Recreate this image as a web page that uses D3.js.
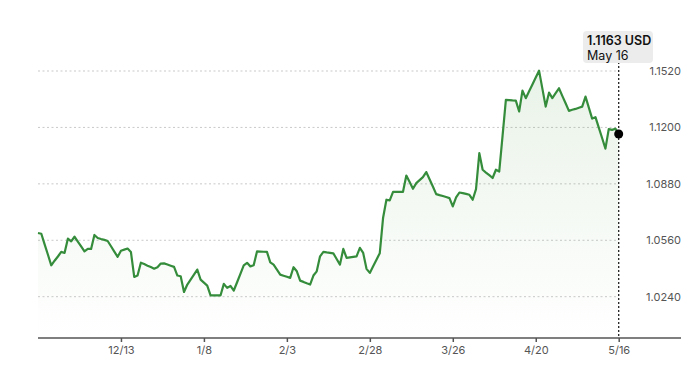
<!DOCTYPE html>
<html>
<head>
<meta charset="utf-8">
<script src="https://cdn.jsdelivr.net/npm/d3@7"></script>
<style>
  html, body { margin: 0; padding: 0; background: #fff; }
  svg { display: block; font-family: Inter, "Liberation Sans", sans-serif; }
</style>
</head>
<body>
<svg id="chart" width="700" height="371"></svg>
<script>
// EUR/USD daily closing values (one per trading day index)
const values = [
  1.0601, 1.0597, 1.0537, 1.0478, 1.0418, 1.0444, 1.0468, 1.0494, 1.0488, 1.0569,
  1.0554, 1.0580, 1.0553, 1.0525, 1.0497, 1.0511, 1.0511, 1.0590, 1.0573, 1.0567,
  1.0562, 1.0556, 1.0526, 1.0496, 1.0466, 1.0501, 1.0507, 1.0513, 1.0494, 1.0352,
  1.0360, 1.0433, 1.0425, 1.0416, 1.0408, 1.0399, 1.0407, 1.0428, 1.0429, 1.0423,
  1.0416, 1.0409, 1.0360, 1.0356, 1.0267, 1.0309, 1.0337, 1.0365, 1.0394, 1.0337,
  1.0320, 1.0303, 1.0247, 1.0247, 1.0247, 1.0247, 1.0313, 1.0290, 1.0301, 1.0275,
  1.0322, 1.0370, 1.0418, 1.0432, 1.0412, 1.0418, 1.0497, 1.0496, 1.0495, 1.0494,
  1.0435, 1.0422, 1.0394, 1.0365, 1.0359, 1.0353, 1.0347, 1.0407, 1.0384, 1.0331,
  1.0324, 1.0316, 1.0309, 1.0360, 1.0384, 1.0469, 1.0494, 1.0491, 1.0489, 1.0486,
  1.0454, 1.0422, 1.0511, 1.0460, 1.0463, 1.0466, 1.0469, 1.0517, 1.0488, 1.0398,
  1.0375, 1.0412, 1.0450, 1.0487, 1.0688, 1.0790, 1.0786, 1.0835, 1.0835, 1.0835,
  1.0835, 1.0927, 1.0890, 1.0852, 1.0884, 1.0901, 1.0918, 1.0947, 1.0906, 1.0865,
  1.0822, 1.0816, 1.0811, 1.0805, 1.0799, 1.0752, 1.0803, 1.0831, 1.0827, 1.0823,
  1.0818, 1.0790, 1.0850, 1.1054, 1.0960, 1.0944, 1.0929, 1.0913, 1.0960, 1.0950,
  1.1152, 1.1356, 1.1355, 1.1353, 1.1352, 1.1290, 1.1409, 1.1366, 1.1405, 1.1444,
  1.1483, 1.1522, 1.1420, 1.1318, 1.1397, 1.1366, 1.1394, 1.1422, 1.1379, 1.1337,
  1.1294, 1.1300, 1.1305, 1.1312, 1.1318, 1.1375, 1.1312, 1.1250, 1.1258, 1.1199,
  1.1140, 1.1080, 1.1190, 1.1186, 1.1193, 1.1163
];
const tickIndex = [25, 50, 75, 100, 125, 150, 175];
const tickLabels = ["12/13", "1/8", "2/3", "2/28", "3/26", "4/20", "5/16"];
const yTicks = [1.0240, 1.0560, 1.0880, 1.1200, 1.1520];
const tooltipValue = "1.1163 USD";
const tooltipDate = "May 16";

const svg = d3.select("#chart");
const x = d3.scaleLinear().domain([0, values.length - 1]).range([38, 618.7]);
const y = d3.scaleLinear().domain([1.0240, 1.1520]).range([296.7, 71]);
const axisY = 338;

// gradient
const defs = svg.append("defs");
const grad = defs.append("linearGradient").attr("id", "fillGrad")
  .attr("gradientUnits", "userSpaceOnUse")
  .attr("x1", 0).attr("x2", 0).attr("y1", y(1.1520)).attr("y2", axisY);
grad.append("stop").attr("offset", "0%").attr("stop-color", "#4a9a3e").attr("stop-opacity", 0.12);
grad.append("stop").attr("offset", "100%").attr("stop-color", "#4a9a3e").attr("stop-opacity", 0.0);

// gridlines
svg.append("g").selectAll("line").data(yTicks).join("line")
  .attr("x1", 38).attr("x2", 618.7)
  .attr("y1", d => y(d)).attr("y2", d => y(d))
  .attr("stroke", "#c9c9c9").attr("stroke-width", 1)
  .attr("stroke-dasharray", "2,2.5");

// y labels
svg.append("g").selectAll("text").data(yTicks).join("text")
  .attr("x", 681).attr("y", d => y(d) + 4)
  .attr("text-anchor", "end")
  .attr("font-size", 11).attr("fill", "#555")
  .text(d => d.toFixed(4));

// area
const area = d3.area().x((d, i) => x(i)).y0(axisY).y1(d => y(d));
svg.append("path").datum(values).attr("d", area).attr("fill", "url(#fillGrad)");

// line
const line = d3.line().x((d, i) => x(i)).y(d => y(d));
svg.append("path").datum(values).attr("d", line)
  .attr("fill", "none").attr("stroke", "#358d3c").attr("stroke-width", 2.2)
  .attr("stroke-linejoin", "round");

// x axis
const xAxis = d3.axisBottom(x).tickValues(tickIndex)
  .tickFormat((d, i) => tickLabels[i]).tickSize(5).tickSizeOuter(0);
const gx = svg.append("g").attr("transform", `translate(0,${axisY})`).call(xAxis);
gx.select(".domain").remove();
gx.append("line").attr("x1", 38).attr("x2", 681).attr("y1", 0).attr("y2", 0)
  .attr("stroke", "#555").attr("stroke-width", 1.5);
gx.selectAll(".tick line").attr("stroke", "#555").attr("stroke-width", 1.5).attr("y2", 4);
gx.selectAll(".tick text").attr("fill", "#555").attr("font-size", 11)
  .attr("font-family", "Inter, 'Liberation Sans', sans-serif").attr("dy", "0.9em").attr("y", 6);

// hover marker
const last = values.length - 1;
svg.append("line").attr("x1", x(last)).attr("x2", x(last))
  .attr("y1", 62).attr("y2", axisY)
  .attr("stroke", "#222").attr("stroke-width", 1.3).attr("stroke-dasharray", "2,2");
svg.append("circle").attr("cx", x(last)).attr("cy", y(values[last])).attr("r", 4.5).attr("fill", "#000");

// tooltip
const tip = svg.append("g");
tip.append("rect").attr("x", 583).attr("y", 31).attr("width", 70).attr("height", 32)
  .attr("rx", 4).attr("fill", "#ececec");
tip.append("text").attr("x", 587).attr("y", 45).attr("font-size", 12.5)
  .attr("font-weight", 600).attr("fill", "#111").text(tooltipValue);
tip.append("text").attr("x", 587).attr("y", 60).attr("font-size", 12.5)
  .attr("fill", "#111").text(tooltipDate);
</script>
</body>
</html>
